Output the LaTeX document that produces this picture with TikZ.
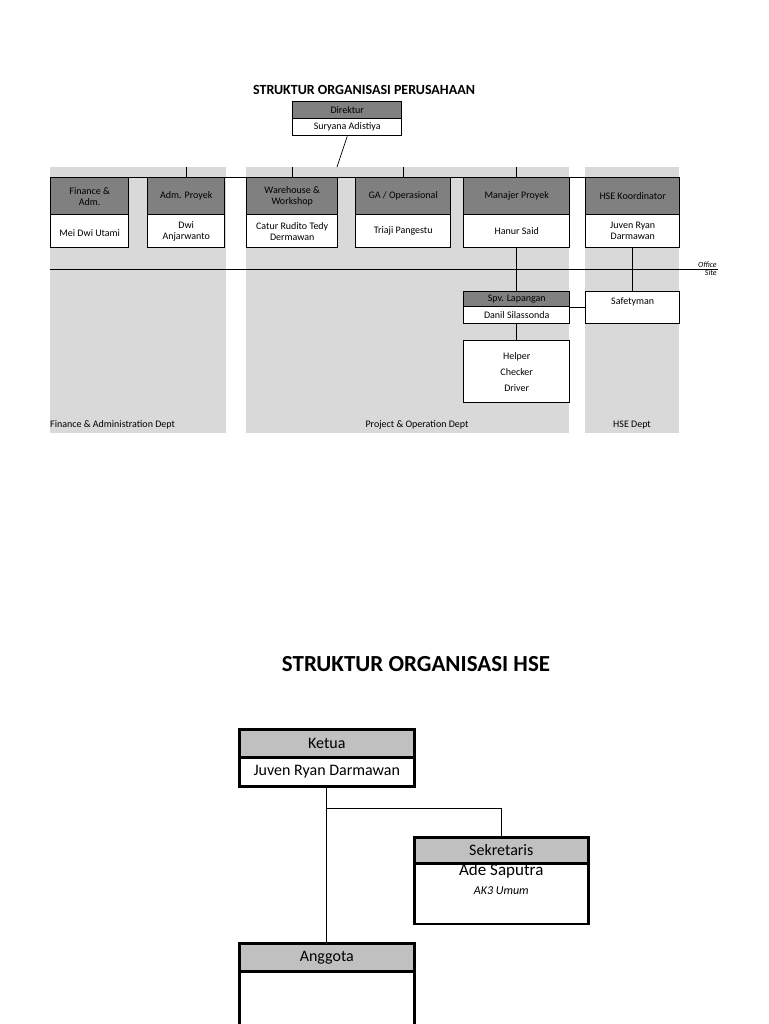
\documentclass[tikz,border=0pt]{standalone}
\usepackage{fontspec}
\setmainfont{Carlito}
\begin{document}
\begin{tikzpicture}[x=1pt,y=-1pt,
  hd/.style={draw=black,line width=1.4pt,fill=gray!100!white,fill=hdgray,anchor=north west,inner sep=0pt,align=center,font=\fontsize{10}{11}\selectfont},
  bd/.style={draw=black,line width=1.4pt,fill=white,anchor=north west,inner sep=0pt,align=center,font=\fontsize{10}{11}\selectfont},
  hd2/.style={draw=black,line width=2.6pt,fill=lgray,anchor=north west,inner sep=0pt,align=center,font=\fontsize{16}{18}\selectfont},
  bd2/.style={draw=black,line width=2.6pt,fill=white,anchor=north west,inner sep=0pt,align=center,font=\fontsize{16}{18}\selectfont},
  ln/.style={line width=0.7pt},
  dept/.style={fill=deptgray},
  dl/.style={font=\fontsize{10}{11}\selectfont}]
\definecolor{hdgray}{RGB}{128,128,128}
\definecolor{lgray}{RGB}{192,192,192}
\definecolor{deptgray}{RGB}{217,217,217}
\useasboundingbox[fill=white] (0,0) rectangle (768,1024);
% dept backgrounds
\fill[dept] (50,167) rectangle (226,433);
\fill[dept] (246,167) rectangle (569,433);
\fill[dept] (585,167) rectangle (679,433);
\node[font=\bfseries\fontsize{14}{16}\selectfont] (t1) at (364,90) {STRUKTUR ORGANISASI PERUSAHAAN};
% direktur
\node[hd,minimum width=109,minimum height=17] (dirh) at (292,101) {Direktur};
\node[bd,minimum width=109,minimum height=17] (dir) at (292,118) {Suryana Adistiya};
% top row
\foreach \n/\x/\w/\h/\b in {fin/50/78/{Finance \&\\Adm.}/{\\Mei Dwi Utami},adm/147/77/{Adm. Proyek}/{Dwi\\Anjarwanto},wh/246/91/{Warehouse \&\\Workshop}/{Catur Rudito Tedy\\Dermawan},ga/355/95/{GA / Operasional}/{Triaji Pangestu},mp/463/106/{Manajer Proyek}/{Hanur Said},hse/585/94/{HSE Koordinator}/{Juven Ryan\\Darmawan}}{
  \node[hd,minimum width=\w,minimum height=37] (\n h) at (\x,177) {\h};
  \node[bd,minimum width=\w,minimum height=33] (\n) at (\x,214) {\b};
}
\coordinate (bus) at (337,167);
\draw[ln] (dir.south) -- (bus);
\draw[ln] (finh.north) |- (hseh.north);
\foreach \n in {adm,wh,ga,mp}{\draw[ln] (\n h.north) -- ++(0,-10);}
% office/site
\coordinate (os1) at (50,269);
\coordinate (os2) at (718,269);
\draw[ln] (os1) -- (os2);
\node[font=\itshape\fontsize{8}{9}\selectfont,anchor=south east,inner sep=1pt] (off) at (os2) {Office};
\node[font=\itshape\fontsize{8}{9}\selectfont,anchor=north east,inner sep=1pt] (site) at (os2) {Site};
% spv
\node[hd,minimum width=106,minimum height=15] (spvh) at (463,291) {Spv. Lapangan};
\node[bd,minimum width=106,minimum height=17] (spv) at (463,306) {Danil Silassonda};
\node[bd,minimum width=94,minimum height=32,text depth=14pt] (saf) at (585,291) {Safetyman};
\node[bd,minimum width=106,minimum height=62,font=\fontsize{10}{16}\selectfont] (help) at (463,340) {Helper\\Checker\\Driver};
\draw[ln] (mp.south) -- (spvh.north);
\draw[ln] (hse.south) -- (saf.north);
\draw[ln] (spvh.south east) -- (saf.west |- spvh.south east);
\draw[ln] (spv.south) -- (help.north);
\node[dl,anchor=west,inner sep=0pt] (d1) at (50,425) {Finance \& Administration Dept};
\node[dl] (d2) at (417,425) {Project \& Operation Dept};
\node[dl] (d3) at (632,425) {HSE Dept};
% HSE structure
\node[font=\bfseries\fontsize{23}{26}\selectfont] (t2) at (416,664) {STRUKTUR ORGANISASI HSE};
\node[hd2,minimum width=175,minimum height=28] (keh) at (238,728) {Ketua};
\node[bd2,minimum width=175,minimum height=29] (ke) at (238,756) {Juven Ryan Darmawan};
\node[hd2,minimum width=174,minimum height=26] (sekh) at (413,836) {Sekretaris};
\node[bd2,minimum width=174,minimum height=53,font=\fontsize{17}{20}\selectfont] (sek) at (413,862) {Ade Saputra\\[-1pt]{\itshape\fontsize{12}{14}\selectfont AK3 Umum}\\[10pt]};
\node[hd2,minimum width=175,minimum height=28] (angh) at (238,942) {Anggota};
\node[bd2,minimum width=175,minimum height=70] (ang) at (238,970) {};
\draw[ln] (ke.south -| 326,0) -- (angh.north -| 326,0);
\coordinate (br) at (326,808);
\draw[ln] (br) -| (sekh.north);
\end{tikzpicture}
\end{document}
